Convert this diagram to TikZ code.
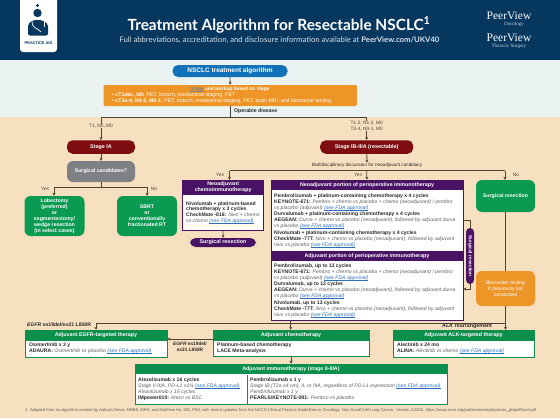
\documentclass[tikz,border=0pt]{standalone}
\usepackage{fontspec}
\setmainfont{Liberation Sans}
\newfontfamily\titlefont{Lato}
\newfontfamily\logofont{Liberation Serif}
\usetikzlibrary{arrows.meta}
\definecolor{navy}{HTML}{05375F}
\definecolor{tan}{HTML}{F6E0BF}
\definecolor{pale}{HTML}{EAF3F2}
\definecolor{ink}{HTML}{2A2A2A}
\definecolor{muted}{HTML}{5F5F5F}
\definecolor{wire}{HTML}{4F4433}
\definecolor{linkblue}{HTML}{2A6EBB}
\definecolor{stagered}{HTML}{7D0D10}
\definecolor{askgray}{HTML}{7E8084}
\definecolor{treatgreen}{HTML}{0B9A52}
\definecolor{headgreen}{HTML}{0A8F4C}
\definecolor{plum}{HTML}{4A1264}
\definecolor{amber}{HTML}{EE9527}
\definecolor{skyblue}{HTML}{1172B9}
\newlength{\ulinewd}
\newcommand{\rulebelow}[1]{\settowidth{\ulinewd}{#1}\rlap{\rule[-.7pt]{\ulinewd}{.3pt}}#1}
\newcommand{\fda}{\textcolor{linkblue}{\rulebelow{\textit{(see FDA approval)}}}}
\newcommand{\lead}[1]{\textcolor{ink}{\textbf{#1}}}
\tikzset{
  pill/.style={rounded corners=5.5pt,inner sep=0pt,align=center,text=white,font=\fontsize{5.4}{6.4}\selectfont\bfseries},
  card/.style={rounded corners=6pt,inner sep=0pt,align=center,text=white,font=\fontsize{5.2}{5.9}\selectfont\bfseries},
  panel/.style={draw=#1,fill=white,line width=.8pt,inner sep=0pt},
  panelhead/.style={fill=#1,inner sep=0pt,text=white,align=center,font=\fontsize{5.3}{6}\selectfont\bfseries},
  body/.style={inner sep=0pt,align=left,anchor=west,text=muted,font=\fontsize{5.1}{6.1}\selectfont},
  note/.style={inner sep=0pt,align=center,text=wire,font=\fontsize{4.8}{6}\selectfont},
  ar/.style={-{Stealth[length=3pt,width=3pt]},draw=wire,line width=.8pt},
  ln/.style={draw=wire,line width=.8pt},
}
\begin{document}
\begin{tikzpicture}[x=1pt,y=-1pt]
\useasboundingbox (0,0) rectangle (560,418);
\fill[tan] (0,0) rectangle (560,418);
\fill[pale] (0,60) rectangle (560,117);
\fill[navy] (0,0) rectangle (560,60);
\fill[white,rounded corners=3pt] (20,-6) rectangle (57,52);
\fill[navy] (37.5,13) circle (4.2);
\fill[navy] (37.5,5.5) circle (1.6);
\fill[navy,rounded corners=2pt] (28,24) -- (33,20) -- (42,20) -- (48,24) -- (48,35.5) -- (28,35.5) -- cycle;
\draw[white,line width=.7pt] (32,21) .. controls (32,29) and (38,28) .. (41,32);
\draw[white,line width=.7pt] (44,21) -- (44,27);
\node[inner sep=0pt,text=navy,font=\fontsize{3.9}{4}\selectfont\bfseries] (tabname) at (38.5,43) {PRACTICE AID};
\node[inner sep=0pt,text=white,font=\titlefont\fontsize{15.4}{17}\selectfont\bfseries] (title) at (279,25) {Treatment Algorithm for Resectable NSCLC\textsuperscript{1}};
\node[inner sep=0pt,text=white!85!navy,font=\titlefont\fontsize{7.7}{9}\selectfont] (subtitle) at (279.5,40.5) {Full abbreviations, accreditation, and disclosure information available at \textbf{PeerView.com/UKV40}};
\node[inner sep=0pt,text=white,font=\logofont\fontsize{11.5}{12}\selectfont] (logoA) at (509,16) {PeerView};
\node[inner sep=0pt,text=white!80!navy,font=\logofont\fontsize{5}{6}\selectfont] (logoAsub) at (514,24.5) {Oncology};
\node[inner sep=0pt,text=white,font=\logofont\fontsize{11.5}{12}\selectfont] (logoB) at (509,38) {PeerView};
\node[inner sep=0pt,text=white!80!navy,font=\logofont\fontsize{5}{6}\selectfont] (logoBsub) at (509,46.5) {Thoracic Surgery};

\node[pill,fill=skyblue,minimum width=115pt,minimum height=12pt,font=\fontsize{6.5}{7}\selectfont\bfseries] (algo) at (230,71) {NSCLC treatment algorithm};
\node[fill=amber,rounded corners=1.5pt,minimum width=253.5pt,minimum height=21pt,inner sep=0pt] (workup) at (230.25,95.5) {};
\node[inner sep=0pt,text=white,font=\fontsize{4.9}{6}\selectfont\bfseries] (workuptitle) at (230,89.5) {\textcolor{askgray}{\rulebelow{Stage}} and workup based on stage};
\node[body,text=white,font=\fontsize{5.2}{6.1}\selectfont] (workuptext) at (112,98.5) {• \textbf{cT1abc, N0:} PET, bronch, mediastinal staging, PET\\• \textbf{cT2a-4, N0-3, M0-1:} PET, bronch, mediastinal staging, PET, brain MRI, and biomarker testing};
\node[note,anchor=west,text=ink,font=\fontsize{5.2}{6}\selectfont\bfseries] (operable) at (234,111) {Operable disease};
\coordinate (opmid) at (230.25,117);
\coordinate (opL) at (101,117);
\coordinate (opR) at (366.7,117);

\node[note] (labelIA) at (101,126) {T1, N0, M0};
\node[note] (labelIB) at (366.7,126) {T1-2, N1-2, M0\\T3-4, N0-1, M0};
\node[pill,fill=stagered,minimum width=68pt,minimum height=13.5pt] (stageIA) at (101,147) {Stage IA};
\node[pill,fill=stagered,minimum width=93pt,minimum height=13.5pt] (stageIB) at (366.7,147) {Stage IB-IIIA (resectable)};
\node[card,fill=askgray,minimum width=68pt,minimum height=21pt] (candidate) at (101,171.5) {Surgical candidates?};
\coordinate (splitA) at (101,187);
\coordinate (splitAL) at (54,187);
\coordinate (splitAR) at (147,187);
\node[card,fill=treatgreen,minimum width=60pt,minimum height=40pt] (lobectomy) at (54.5,216) {Lobectomy\\(preferred)\\or\\segmentectomy/\\wedge resection\\(in select cases)};
\node[card,fill=treatgreen,minimum width=60pt,minimum height=40pt] (sbrt) at (147,216) {SBRT\\or\\conventionally\\fractionated RT};
\node[note] (yesA) at (45,189) {Yes};
\node[note] (noA) at (154,189) {No};

\node[note,text=ink,font=\fontsize{4.6}{6}\selectfont] (multi) at (367,165) {Multidisciplinary discussion for neoadjuvant candidacy};
\coordinate (splitB) at (366.7,170.7);
\coordinate (splitBL) at (229.5,170.7);
\coordinate (splitBR) at (505,170.7);
\node[note] (yesBL) at (220,175) {Yes};
\node[note] (yesBM) at (358,175) {Yes};
\node[note] (noBR) at (516,175) {No};

\node[panel=plum,minimum width=81pt,minimum height=50pt] (neochemo) at (223.2,205) {};
\node[panelhead=plum,minimum width=81pt,minimum height=15pt] (neochemohead) at (223.2,187.5) {Neoadjuvant\\chemoimmunotherapy};
\node[body] (neochemotext) at (186,212.5) {\lead{Nivolumab + platinum-based}\\[-.7pt]\lead{chemotherapy x 3 cycles}\\\lead{CheckMate -816:} \textit{Nivo + chemo}\\\textit{vs chemo} \fda};
\node[pill,fill=plum,minimum width=66pt,minimum height=9pt] (neosurgery) at (223,242.5) {Surgical resection};

\node[panel=plum,minimum width=192pt,minimum height=71pt] (periNeo) at (367,215.5) {};
\node[panelhead=plum,minimum width=192pt,minimum height=10.5pt] (periNeohead) at (367,185.2) {Neoadjuvant portion of perioperative immunotherapy};
\node[body] (periNeotext) at (274,220.5) {\lead{Pembrolizumab + platinum-containing chemotherapy x 4 cycles}\\\lead{KEYNOTE-671:} \textit{Pembro + chemo vs placebo + chemo (neoadjuvant) / pembro}\\\textit{vs placebo (adjuvant)} \fda\\\lead{Durvalumab + platinum-containing chemotherapy x 4 cycles}\\\lead{AEGEAN:} \textit{Durva + chemo vs placebo (neoadjuvant), followed by adjuvant durva}\\\textit{vs placebo} \fda\\\lead{Nivolumab + platinum-containing chemotherapy x 4 cycles}\\\lead{CheckMate -77T:} \textit{Nivo + chemo vs placebo (neoadjuvant), followed by adjuvant}\\\textit{nivo vs placebo} \fda};
\node[panel=plum,minimum width=192pt,minimum height=69pt] (periAdj) at (367,285.5) {};
\node[panelhead=plum,minimum width=192pt,minimum height=10pt] (periAdjhead) at (367,256) {Adjuvant portion of perioperative immunotherapy};
\node[body] (periAdjtext) at (274,290.5) {\lead{Pembrolizumab, up to 13 cycles}\\\lead{KEYNOTE-671:} \textit{Pembro + chemo vs placebo + chemo (neoadjuvant) / pembro}\\\textit{vs placebo (adjuvant)} \fda\\\lead{Durvalumab, up to 12 cycles}\\\lead{AEGEAN:} \textit{Durva + chemo vs placebo (neoadjuvant), followed by adjuvant durva}\\\textit{vs placebo} \fda\\\lead{Nivolumab, up to 13 cycles}\\\lead{CheckMate -77T:} \textit{Nivo + chemo vs placebo (neoadjuvant), followed by adjuvant}\\\textit{nivo vs placebo} \fda};
\node[pill,fill=plum,rotate=-90,minimum width=56pt,minimum height=8pt,rounded corners=4pt,font=\fontsize{4.8}{6}\selectfont\bfseries] (sideSurgery) at (470,256) {Surgical resection};
\coordinate (sideIn) at (463,220);
\coordinate (sideOut) at (470,289);

\node[card,fill=treatgreen,minimum width=59pt,minimum height=32pt] (directSurgery) at (505.5,196) {Surgical resection};
\node[card,fill=amber,minimum width=59pt,minimum height=35pt,font=\fontsize{5}{6.2}\selectfont] (biomarker) at (505.5,288.5) {Biomarker testing\\if previously not\\conducted};

\coordinate (lowbarL) at (96,323);
\coordinate (lowbarM) at (290.7,323);
\coordinate (lowbarR) at (505.5,323);
\node[note,anchor=west,text=ink,font=\fontsize{5.1}{6}\selectfont\bfseries] (egfrTop) at (27,325) {\textit{EGFR} ex19del/ex21 L858R};
\node[note,anchor=west,text=ink,font=\fontsize{5.3}{6}\selectfont\bfseries] (alkTop) at (442,326.5) {\textit{ALK} rearrangement};

\node[panel=headgreen,minimum width=142pt,minimum height=27pt] (egfr) at (96,343.5) {};
\node[panelhead=headgreen,minimum width=142pt,minimum height=11pt] (egfrhead) at (96,335.5) {Adjuvant EGFR-targeted therapy};
\node[body] (egfrtext) at (29,348.5) {\lead{Osimertinib x 3 y}\\\lead{ADAURA:} \textit{Osimertinib vs placebo} \fda};
\node[panel=headgreen,minimum width=156pt,minimum height=26pt] (chemo) at (291,343) {};
\node[panelhead=headgreen,minimum width=156pt,minimum height=11pt] (chemohead) at (291,335.5) {Adjuvant chemotherapy};
\node[body] (chemotext) at (217,348.5) {\lead{Platinum-based chemotherapy}\\\lead{LACE Meta-analysis}};
\node[note,text=ink,font=\fontsize{4.8}{5.6}\selectfont\bfseries] (egfrSide) at (190,346.8) {\textit{EGFR} ex19del/\\ex21 L858R};
\node[panel=headgreen,minimum width=141pt,minimum height=27pt] (alk) at (463.5,343.5) {};
\node[panelhead=headgreen,minimum width=141pt,minimum height=11pt] (alkhead) at (463.5,335.5) {Adjuvant ALK-targeted therapy};
\node[body] (alktext) at (397,348.5) {\lead{Alectinib x 24 mo}\\\lead{ALINA:} \textit{Alectinib vs chemo} \fda};

\node[panel=headgreen,minimum width=312pt,minimum height=40pt] (immuno) at (291,384) {};
\node[panelhead=headgreen,minimum width=312pt,minimum height=10.5pt] (immunohead) at (291,369.2) {Adjuvant immunotherapy (stage II-IIIA)};
\node[body] (immunoL) at (138,389.2) {\lead{Atezolizumab x 16 cycles}\\\textit{Stage II-IIIA, PD-L1 ≥1\%} \fda\\\textit{Atezolizumab x 16 cycles}\\\lead{IMpower010:} \textit{Atezo vs BSC}};
\node[body] (immunoR) at (250,389.2) {\lead{Pembrolizumab x 1 y}\\\textit{Stage IB (T2a ≥4 cm), II, or IIIA, regardless of PD-L1 expression} \fda\\\textit{Pembrolizumab x 1 y}\\\lead{PEARLS/KEYNOTE-091:} \textit{Pembro vs placebo}};
\coordinate (dividerTop) at (247,374.5);
\coordinate (dividerBot) at (247,404);
\node[note,anchor=west,text=muted,font=\fontsize{4.07}{5}\selectfont] (footnote) at (25,410) {1. Adapted from an algorithm created by Aakash Desai, MBBS, MPH, and Matthew Ho, MD, PhD, with recent updates from the NCCN Clinical Practice Guidelines in Oncology. Non-Small Cell Lung Cancer. Version 3.2025. https://www.nccn.org/professionals/physician\_gls/pdf/nscl.pdf.};

\draw[ar] (algo) -- (workup);
\draw[ln] (workup) -- (opmid);
\draw[ln] (opL) -- (opR);
\draw[ln] (opL) -- (labelIA);
\draw[ln] (opR) -- (labelIB);
\draw[ar] (labelIA) -- (stageIA);
\draw[ar] (labelIB) -- (stageIB);
\draw[ar] (stageIA) -- (candidate);
\draw[ln] (candidate) -- (splitA);
\draw[ln] (splitAL) -- (splitAR);
\draw[ar] (splitAL) -- (splitAL |- lobectomy.north);
\draw[ar] (splitAR) -- (splitAR |- sbrt.north);
\draw[ar] (stageIB) -- (multi);
\draw[ln] (splitBL) -- (splitBR);
\draw[ar] (splitB) -- (periNeohead);
\draw[ar] (splitBL) -- (splitBL |- neochemohead.north);
\draw[ar] (splitBR) -- (splitBR |- directSurgery.north);
\draw[ar] (neochemo) -- (neosurgery);
\draw[ln] (sideIn) -| (sideSurgery.west);
\draw[ar] (sideSurgery.east) |- (sideOut -| periAdj.east);
\draw[ln] (directSurgery) -- (biomarker);
\draw[ar] (biomarker) -- (alkhead.north -| biomarker);
\draw[ln] (lowbarL) -- (lowbarR);
\draw[ar] (lowbarL) -- (egfrhead);
\draw[ar] (periAdj.south -| lowbarM) -- (lowbarM |- chemohead.north);
\draw[ar] (chemo.west |- 0,339) -- (egfr.east |- 0,339);
\draw[ar] (chemo) -- (immunohead);
\draw[draw=muted,line width=.4pt] (dividerTop) -- (dividerBot);
\end{tikzpicture}
\end{document}
